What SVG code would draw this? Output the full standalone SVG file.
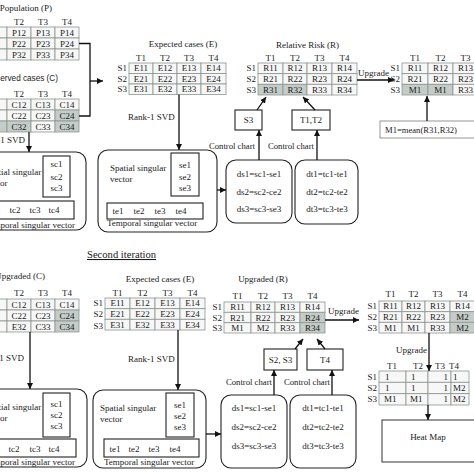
<svg xmlns="http://www.w3.org/2000/svg" width="474" height="474" viewBox="0 0 474 474">
<style>
.c{fill:#f6f7f6;stroke:#8c9691;stroke-width:0.8}
.g{fill:#c4ccc8;stroke:#8c9691;stroke-width:0.8}
.t{font-family:"Liberation Serif","Times New Roman",serif;font-size:9px;fill:#1a1a1a}
.m{text-anchor:middle}
.e{text-anchor:end}
.bx{fill:#fff;stroke:#222;stroke-width:1.1}
.ln{stroke:#111;stroke-width:1.3;fill:none}
</style>
<defs>
<marker id="ah" markerWidth="6" markerHeight="6" refX="6" refY="3" orient="auto" markerUnits="userSpaceOnUse"><path d="M0,0 L6,3 L0,6 z" fill="#111"/></marker>
</defs>
<rect width="474" height="474" fill="#fff"/>

<!-- Population table -->
<g id="population">
<text x="52" y="11" class="t e">Population (P)</text>
<text x="19" y="25" class="t m">T2</text><text x="43" y="25" class="t m">T3</text><text x="67" y="25" class="t m">T4</text>
<rect x="-17" y="27" width="24" height="11" class="c"/><rect x="7" y="27" width="24" height="11" class="c"/><rect x="31" y="27" width="24" height="11" class="c"/><rect x="55" y="27" width="24" height="11" class="c"/>
<rect x="-17" y="38" width="24" height="11" class="c"/><rect x="7" y="38" width="24" height="11" class="c"/><rect x="31" y="38" width="24" height="11" class="c"/><rect x="55" y="38" width="24" height="11" class="c"/>
<rect x="-17" y="49" width="24" height="11" class="c"/><rect x="7" y="49" width="24" height="11" class="c"/><rect x="31" y="49" width="24" height="11" class="c"/><rect x="55" y="49" width="24" height="11" class="c"/>
<text x="19" y="35.5" class="t m">P12</text><text x="43" y="35.5" class="t m">P13</text><text x="67" y="35.5" class="t m">P14</text>
<text x="19" y="46.5" class="t m">P22</text><text x="43" y="46.5" class="t m">P23</text><text x="67" y="46.5" class="t m">P24</text>
<text x="19" y="57.5" class="t m">P32</text><text x="43" y="57.5" class="t m">P33</text><text x="67" y="57.5" class="t m">P34</text>
</g>

<!-- Observed cases table -->
<g id="observed">
<text x="58" y="81" text-anchor="end" style="font-family:'Liberation Sans',Arial,sans-serif;font-size:8.2px;fill:#1a1a1a">Observed cases (C)</text>
<text x="19" y="97" class="t m">T2</text><text x="43" y="97" class="t m">T3</text><text x="67" y="97" class="t m">T4</text>
<rect x="-17" y="99" width="24" height="11" class="c"/><rect x="7" y="99" width="24" height="11" class="c"/><rect x="31" y="99" width="24" height="11" class="c"/><rect x="55" y="99" width="24" height="11" class="c"/>
<rect x="-17" y="110" width="24" height="11" class="c"/><rect x="7" y="110" width="24" height="11" class="c"/><rect x="31" y="110" width="24" height="11" class="c"/><rect x="55" y="110" width="24" height="11" class="g"/>
<rect x="-17" y="121" width="24" height="11" class="g"/><rect x="7" y="121" width="24" height="11" class="g"/><rect x="31" y="121" width="24" height="11" class="c"/><rect x="55" y="121" width="24" height="11" class="g"/>
<text x="19" y="107.5" class="t m">C12</text><text x="43" y="107.5" class="t m">C13</text><text x="67" y="107.5" class="t m">C14</text>
<text x="19" y="118.5" class="t m">C22</text><text x="43" y="118.5" class="t m">C23</text><text x="67" y="118.5" class="t m">C24</text>
<text x="19" y="129.5" class="t m">C32</text><text x="43" y="129.5" class="t m">C33</text><text x="67" y="129.5" class="t m">C34</text>
</g>

<!-- Expected cases table 1 -->
<g id="expected1">
<text x="183" y="47" class="t m">Expected cases (E)</text>
<text x="141" y="61" class="t m">T1</text><text x="165" y="61" class="t m">T2</text><text x="189" y="61" class="t m">T3</text><text x="213.5" y="61" class="t m">T4</text>
<rect x="129" y="63" width="24" height="10.5" class="c"/><rect x="153" y="63" width="24" height="10.5" class="c"/><rect x="177" y="63" width="24" height="10.5" class="c"/><rect x="201" y="63" width="25" height="10.5" class="c"/>
<rect x="129" y="73.5" width="24" height="10.5" class="c"/><rect x="153" y="73.5" width="24" height="10.5" class="c"/><rect x="177" y="73.5" width="24" height="10.5" class="c"/><rect x="201" y="73.5" width="25" height="10.5" class="c"/>
<rect x="129" y="84" width="24" height="10.5" class="c"/><rect x="153" y="84" width="24" height="10.5" class="c"/><rect x="177" y="84" width="24" height="10.5" class="c"/><rect x="201" y="84" width="25" height="10.5" class="c"/>
<text x="127" y="71.3" class="t e">S1</text><text x="127" y="81.8" class="t e">S2</text><text x="127" y="92.3" class="t e">S3</text>
<text x="141" y="71.3" class="t m">E11</text><text x="165" y="71.3" class="t m">E12</text><text x="189" y="71.3" class="t m">E13</text><text x="213.5" y="71.3" class="t m">E14</text>
<text x="141" y="81.8" class="t m">E21</text><text x="165" y="81.8" class="t m">E22</text><text x="189" y="81.8" class="t m">E23</text><text x="213.5" y="81.8" class="t m">E24</text>
<text x="141" y="92.3" class="t m">E31</text><text x="165" y="92.3" class="t m">E32</text><text x="189" y="92.3" class="t m">E33</text><text x="213.5" y="92.3" class="t m">E34</text>
</g>

<!-- Relative risk table -->
<g id="relrisk">
<text x="307.5" y="48" class="t m">Relative Risk (R)</text>
<text x="270.5" y="61" class="t m">T1</text><text x="295" y="61" class="t m">T2</text><text x="319.5" y="61" class="t m">T3</text><text x="344.5" y="61" class="t m">T4</text>
<rect x="258" y="63" width="25" height="10.7" class="c"/><rect x="283" y="63" width="24" height="10.7" class="c"/><rect x="307" y="63" width="25" height="10.7" class="c"/><rect x="332" y="63" width="25" height="10.7" class="c"/>
<rect x="258" y="73.7" width="25" height="10.6" class="c"/><rect x="283" y="73.7" width="24" height="10.6" class="c"/><rect x="307" y="73.7" width="25" height="10.6" class="c"/><rect x="332" y="73.7" width="25" height="10.6" class="c"/>
<rect x="258" y="84.3" width="25" height="10.7" class="g"/><rect x="283" y="84.3" width="24" height="10.7" class="g"/><rect x="307" y="84.3" width="25" height="10.7" class="c"/><rect x="332" y="84.3" width="25" height="10.7" class="c"/>
<text x="256" y="71.3" class="t e">S1</text><text x="256" y="82" class="t e">S2</text><text x="256" y="92.7" class="t e">S3</text>
<text x="270.5" y="71.3" class="t m">R11</text><text x="295" y="71.3" class="t m">R12</text><text x="319.5" y="71.3" class="t m">R13</text><text x="344.5" y="71.3" class="t m">R14</text>
<text x="270.5" y="82" class="t m">R21</text><text x="295" y="82" class="t m">R22</text><text x="319.5" y="82" class="t m">R23</text><text x="344.5" y="82" class="t m">R24</text>
<text x="270.5" y="92.7" class="t m">R31</text><text x="295" y="92.7" class="t m">R32</text><text x="319.5" y="92.7" class="t m">R33</text><text x="344.5" y="92.7" class="t m">R34</text>
</g>

<!-- Upgraded R table (first iteration) -->
<g id="upgraded1">
<text x="415" y="61" class="t m">T1</text><text x="440.5" y="61" class="t m">T2</text><text x="465.5" y="61" class="t m">T3</text>
<rect x="402" y="63" width="26" height="10.7" class="c"/><rect x="428" y="63" width="25" height="10.7" class="c"/><rect x="453" y="63" width="25" height="10.7" class="c"/>
<rect x="402" y="73.7" width="26" height="10.6" class="c"/><rect x="428" y="73.7" width="25" height="10.6" class="c"/><rect x="453" y="73.7" width="25" height="10.6" class="c"/>
<rect x="402" y="84.3" width="26" height="10.7" class="g"/><rect x="428" y="84.3" width="25" height="10.7" class="g"/><rect x="453" y="84.3" width="25" height="10.7" class="c"/>
<text x="400" y="71.3" class="t e">S1</text><text x="400" y="82" class="t e">S2</text><text x="400" y="92.7" class="t e">S3</text>
<text x="415" y="71.3" class="t m">R11</text><text x="440.5" y="71.3" class="t m">R12</text><text x="465.5" y="71.3" class="t m">R13</text>
<text x="415" y="82" class="t m">R21</text><text x="440.5" y="82" class="t m">R22</text><text x="465.5" y="82" class="t m">R23</text>
<text x="415" y="92.7" class="t m">M1</text><text x="440.5" y="92.7" class="t m">M1</text><text x="465.5" y="92.7" class="t m">R33</text>
</g>

<g id="mean-box">
<rect x="380" y="121" width="96" height="17" fill="#fff" stroke="#8a8a8a" stroke-width="0.9"/>
<text x="385" y="132.5" class="t" style="font-size:8.6px">M1=mean(R31,R32)</text>
</g>

<g id="s3-box"><rect x="235" y="110" width="27" height="20" class="bx"/><text x="248.5" y="123" class="t m">S3</text></g>
<g id="t1t2-box"><rect x="292" y="110" width="38" height="20" class="bx"/><text x="311" y="123" class="t m">T1,T2</text></g>

<g id="svd-c1">
<rect x="-27" y="152" width="113" height="78" rx="10" class="bx"/>
<rect x="43" y="156" width="27" height="41" class="bx"/>
<text x="56.5" y="167" class="t m">sc1</text><text x="56.5" y="180" class="t m">sc2</text><text x="56.5" y="191" class="t m">sc3</text>
<text x="-15" y="175" class="t">Spatial singular</text><text x="-15" y="186" class="t">vector</text>
<rect x="-20" y="201" width="94" height="18" class="bx"/>
<text x="15" y="213" class="t m">tc2</text><text x="35" y="213" class="t m">tc3</text><text x="54" y="213" class="t m">tc4</text>
<text x="75" y="228" class="t e">Temporal singular vector</text>
</g>

<g id="svd-e1">
<rect x="98" y="150" width="119" height="82" rx="10" class="bx"/>
<rect x="171" y="153" width="28" height="43" class="bx"/>
<text x="185" y="168" class="t m">se1</text><text x="185" y="179.5" class="t m">se2</text><text x="185" y="191" class="t m">se3</text>
<text x="110" y="171" class="t">Spatial singular</text><text x="110" y="182" class="t">vector</text>
<rect x="107" y="203" width="96" height="16" class="bx"/>
<text x="118" y="214" class="t m">te1</text><text x="139" y="214" class="t m">te2</text><text x="160" y="214" class="t m">te3</text><text x="181" y="214" class="t m">te4</text>
<text x="107" y="226" class="t">Temporal singular vector</text>
</g>

<g id="ds1">
<rect x="226" y="160" width="66" height="63" rx="10" class="bx"/>
<text x="259" y="177" class="t m">ds1=sc1-se1</text><text x="259" y="194.5" class="t m">ds2=sc2-ce2</text><text x="259" y="212" class="t m">ds3=sc3-se3</text>
</g>
<g id="dt1">
<rect x="295" y="160" width="63" height="64" rx="10" class="bx"/>
<text x="327" y="177" class="t m">dt1=tc1-te1</text><text x="327" y="194.5" class="t m">dt2=tc2-te2</text><text x="327" y="212" class="t m">dt3=tc3-te3</text>
</g>

<!-- Second iteration -->
<text x="87" y="258" class="t" style="font-size:10.6px;text-decoration:underline">Second iteration</text>

<g id="upgraded-c">
<text x="45" y="279" class="t e">Upgraded (C)</text>
<text x="19" y="296" class="t m">T2</text><text x="43" y="296" class="t m">T3</text><text x="67" y="296" class="t m">T4</text>
<rect x="-17" y="299" width="24" height="11" class="c"/><rect x="7" y="299" width="24" height="11" class="c"/><rect x="31" y="299" width="24" height="11" class="c"/><rect x="55" y="299" width="24" height="11" class="c"/>
<rect x="-17" y="310" width="24" height="11" class="c"/><rect x="7" y="310" width="24" height="11" class="c"/><rect x="31" y="310" width="24" height="11" class="c"/><rect x="55" y="310" width="24" height="11" class="g"/>
<rect x="-17" y="321" width="24" height="11" class="c"/><rect x="7" y="321" width="24" height="11" class="c"/><rect x="31" y="321" width="24" height="11" class="c"/><rect x="55" y="321" width="24" height="11" class="g"/>
<text x="19" y="307.5" class="t m">C12</text><text x="43" y="307.5" class="t m">C13</text><text x="67" y="307.5" class="t m">C14</text>
<text x="19" y="318.5" class="t m">C22</text><text x="43" y="318.5" class="t m">C23</text><text x="67" y="318.5" class="t m">C24</text>
<text x="19" y="329.5" class="t m">E32</text><text x="43" y="329.5" class="t m">C33</text><text x="67" y="329.5" class="t m">C34</text>
</g>

<g id="expected2">
<text x="160" y="282" class="t m">Expected cases (E)</text>
<text x="117.5" y="296" class="t m">T1</text><text x="142.5" y="296" class="t m">T2</text><text x="167.5" y="296" class="t m">T3</text><text x="192.5" y="296" class="t m">T4</text>
<rect x="105" y="298" width="25" height="10.7" class="c"/><rect x="130" y="298" width="25" height="10.7" class="c"/><rect x="155" y="298" width="25" height="10.7" class="c"/><rect x="180" y="298" width="25" height="10.7" class="c"/>
<rect x="105" y="308.7" width="25" height="10.6" class="c"/><rect x="130" y="308.7" width="25" height="10.6" class="c"/><rect x="155" y="308.7" width="25" height="10.6" class="c"/><rect x="180" y="308.7" width="25" height="10.6" class="c"/>
<rect x="105" y="319.3" width="25" height="10.7" class="c"/><rect x="130" y="319.3" width="25" height="10.7" class="c"/><rect x="155" y="319.3" width="25" height="10.7" class="c"/><rect x="180" y="319.3" width="25" height="10.7" class="c"/>
<text x="103" y="306.3" class="t e">S1</text><text x="103" y="317" class="t e">S2</text><text x="103" y="328.5" class="t e">S3</text>
<text x="117.5" y="306.3" class="t m">E11</text><text x="142.5" y="306.3" class="t m">E12</text><text x="167.5" y="306.3" class="t m">E13</text><text x="192.5" y="306.3" class="t m">E14</text>
<text x="117.5" y="317" class="t m">E21</text><text x="142.5" y="317" class="t m">E22</text><text x="167.5" y="317" class="t m">E23</text><text x="192.5" y="317" class="t m">E24</text>
<text x="117.5" y="327.7" class="t m">E31</text><text x="142.5" y="327.7" class="t m">E32</text><text x="167.5" y="327.7" class="t m">E33</text><text x="192.5" y="327.7" class="t m">E34</text>
</g>

<g id="upgraded-r">
<text x="263" y="282" class="t m">Upgraded (R)</text>
<text x="237.5" y="299" class="t m">T1</text><text x="263" y="299" class="t m">T2</text><text x="287.5" y="299" class="t m">T3</text><text x="312.5" y="299" class="t m">T4</text>
<rect x="224" y="302" width="27" height="10.3" class="c"/><rect x="251" y="302" width="24" height="10.3" class="c"/><rect x="275" y="302" width="25" height="10.3" class="c"/><rect x="300" y="302" width="25" height="10.3" class="c"/>
<rect x="224" y="312.3" width="27" height="10.4" class="c"/><rect x="251" y="312.3" width="24" height="10.4" class="c"/><rect x="275" y="312.3" width="25" height="10.4" class="c"/><rect x="300" y="312.3" width="25" height="10.4" class="g"/>
<rect x="224" y="322.7" width="27" height="10.3" class="c"/><rect x="251" y="322.7" width="24" height="10.3" class="c"/><rect x="275" y="322.7" width="25" height="10.3" class="c"/><rect x="300" y="322.7" width="25" height="10.3" class="g"/>
<text x="222" y="310" class="t e">S1</text><text x="222" y="320.5" class="t e">S2</text><text x="222" y="330.5" class="t e">S3</text>
<text x="237.5" y="310.2" class="t m">R11</text><text x="263" y="310.2" class="t m">R12</text><text x="287.5" y="310.2" class="t m">R13</text><text x="312.5" y="310.2" class="t m">R14</text>
<text x="237.5" y="320.5" class="t m">R21</text><text x="263" y="320.5" class="t m">R22</text><text x="287.5" y="320.5" class="t m">R23</text><text x="312.5" y="320.5" class="t m">R24</text>
<text x="237.5" y="330.9" class="t m">M1</text><text x="263" y="330.9" class="t m">M2</text><text x="287.5" y="330.9" class="t m">R33</text><text x="312.5" y="330.9" class="t m">R34</text>
</g>

<g id="upgraded2">
<text x="390.5" y="297" class="t m">T1</text><text x="413.5" y="297" class="t m">T2</text><text x="437.5" y="297" class="t m">T3</text><text x="462.5" y="297" class="t m">T4</text>
<rect x="379" y="301" width="23" height="10.7" class="c"/><rect x="402" y="301" width="23" height="10.7" class="c"/><rect x="425" y="301" width="25" height="10.7" class="c"/><rect x="450" y="301" width="25" height="10.7" class="c"/>
<rect x="379" y="311.7" width="23" height="10.6" class="c"/><rect x="402" y="311.7" width="23" height="10.6" class="c"/><rect x="425" y="311.7" width="25" height="10.6" class="c"/><rect x="450" y="311.7" width="25" height="10.6" class="g"/>
<rect x="379" y="322.3" width="23" height="10.7" class="c"/><rect x="402" y="322.3" width="23" height="10.7" class="c"/><rect x="425" y="322.3" width="25" height="10.7" class="c"/><rect x="450" y="322.3" width="25" height="10.7" class="g"/>
<text x="377" y="309.3" class="t e">S1</text><text x="377" y="320" class="t e">S2</text><text x="377" y="331" class="t e">S3</text>
<text x="390.5" y="309.3" class="t m">R11</text><text x="413.5" y="309.3" class="t m">R12</text><text x="437.5" y="309.3" class="t m">R13</text><text x="462.5" y="309.3" class="t m">R14</text>
<text x="390.5" y="320" class="t m">R21</text><text x="413.5" y="320" class="t m">R22</text><text x="437.5" y="320" class="t m">R23</text><text x="462.5" y="320" class="t m">M2</text>
<text x="390.5" y="330.7" class="t m">M1</text><text x="413.5" y="330.7" class="t m">M1</text><text x="437.5" y="330.7" class="t m">R33</text><text x="462.5" y="330.7" class="t m">M2</text>
</g>

<g id="final-table">
<text x="392" y="369" class="t m">T1</text><text x="418" y="369" class="t m">T2</text><text x="440" y="369" class="t m">T3</text><text x="454" y="369" class="t m">T4</text>
<rect x="379" y="371" width="27" height="11.3" class="c"/><rect x="406" y="371" width="22" height="11.3" class="c"/><rect x="428" y="371" width="23" height="11.3" class="c"/><rect x="451" y="371" width="18" height="11.3" class="c"/>
<rect x="379" y="382.3" width="27" height="11.4" class="c"/><rect x="406" y="382.3" width="22" height="11.4" class="c"/><rect x="428" y="382.3" width="23" height="11.4" class="c"/><rect x="451" y="382.3" width="18" height="11.4" class="c"/>
<rect x="379" y="393.7" width="27" height="11.3" class="c"/><rect x="406" y="393.7" width="22" height="11.3" class="c"/><rect x="428" y="393.7" width="23" height="11.3" class="c"/><rect x="451" y="393.7" width="18" height="11.3" class="c"/>
<text x="377" y="379.7" class="t e">S1</text><text x="377" y="391" class="t e">S2</text><text x="377" y="402.4" class="t e">S3</text>
<text x="385" y="379.7" class="t">1</text><text x="411" y="379.7" class="t">1</text><text x="448" y="379.7" class="t e">1</text><text x="453" y="379.7" class="t">1</text>
<text x="385" y="391" class="t">1</text><text x="411" y="391" class="t">1</text><text x="448" y="391" class="t e">1</text><text x="453" y="391" class="t">M2</text>
<text x="384" y="402.4" class="t">M1</text><text x="410" y="402.4" class="t">M1</text><text x="448" y="402.4" class="t e">1</text><text x="453" y="402.4" class="t">M2</text>
</g>

<g id="heatmap">
<rect x="382" y="420" width="94" height="42" fill="#fff" stroke="#333" stroke-width="1"/>
<text x="428" y="440" class="t m">Heat Map</text>
</g>

<g id="s2s3-box"><rect x="264" y="349" width="33" height="21" class="bx"/><text x="280.5" y="363" class="t m">S2, S3</text></g>
<g id="t4-box"><rect x="307" y="349" width="36" height="21" class="bx"/><text x="325" y="363" class="t m">T4</text></g>

<g id="svd-c2">
<rect x="-27" y="389" width="114" height="78" rx="10" class="bx"/>
<rect x="43" y="393" width="27" height="44" class="bx"/>
<text x="56.5" y="407" class="t m">sc1</text><text x="56.5" y="418" class="t m">sc2</text><text x="56.5" y="429" class="t m">sc3</text>
<text x="-15" y="410" class="t">Spatial singular</text><text x="-15" y="421" class="t">vector</text>
<rect x="-20" y="439" width="96" height="18" class="bx"/>
<text x="14" y="452" class="t m">tc2</text><text x="35" y="452" class="t m">tc3</text><text x="54" y="452" class="t m">tc4</text>
<text x="75" y="465" class="t e">Temporal singular vector</text>
</g>

<g id="svd-e2">
<rect x="93" y="390" width="113" height="78" rx="10" class="bx"/>
<rect x="166" y="393" width="28" height="44" class="bx"/>
<text x="180" y="408" class="t m">se1</text><text x="180" y="418.5" class="t m">se2</text><text x="180" y="430" class="t m">se3</text>
<text x="100" y="411" class="t">Spatial singular</text><text x="100" y="422" class="t">vector</text>
<rect x="104" y="439" width="95" height="18" class="bx"/>
<text x="115" y="452" class="t m">te1</text><text x="134" y="452" class="t m">te2</text><text x="154" y="452" class="t m">te3</text><text x="175" y="452" class="t m">te4</text>
<text x="104" y="465" class="t">Temporal singular vector</text>
</g>

<g id="ds2">
<rect x="221" y="395" width="66" height="73" rx="10" class="bx"/>
<text x="254" y="411" class="t m">ds1=sc1-se1</text><text x="254" y="430" class="t m">ds2=sc2-ce2</text><text x="254" y="449" class="t m">ds3=sc3-se3</text>
</g>
<g id="dt2">
<rect x="290" y="395" width="66" height="73" rx="10" class="bx"/>
<text x="323" y="411" class="t m">dt1=tc1-te1</text><text x="323" y="430" class="t m">dt2=tc2-te2</text><text x="323" y="449" class="t m">dt3=tc3-te3</text>
</g>

<!-- connectors -->
<g id="connectors">
<polyline points="79,43.5 90,43.5 90,116 79,116" class="ln"/>
<line x1="90" y1="81" x2="103" y2="81" class="ln" marker-end="url(#ah)"/>
<line x1="29" y1="132" x2="29" y2="152" class="ln" marker-end="url(#ah)"/>
<text x="25" y="143" class="t e">Rank-1 SVD</text>
<line x1="179" y1="94.5" x2="179" y2="150" class="ln" marker-end="url(#ah)"/>
<text x="128" y="120" class="t">Rank-1 SVD</text>
<line x1="217" y1="190" x2="226" y2="190" class="ln" marker-end="url(#ah)"/>
<line x1="259" y1="160" x2="259" y2="130" class="ln" marker-end="url(#ah)"/>
<text x="255" y="149" class="t e" style="font-size:8.7px">Control chart</text>
<line x1="317" y1="160" x2="317" y2="130" class="ln" marker-end="url(#ah)"/>
<text x="314" y="149" class="t e" style="font-size:8.7px">Control chart</text>
<line x1="257" y1="110" x2="266" y2="97" class="ln" marker-end="url(#ah)"/>
<line x1="315" y1="110" x2="303" y2="97" class="ln" marker-end="url(#ah)"/>
<line x1="357" y1="80" x2="394" y2="80" class="ln" marker-end="url(#ah)"/>
<text x="358" y="76" class="t">Upgrade</text>
<line x1="427" y1="121" x2="427" y2="96" class="ln" marker-end="url(#ah)"/>

<line x1="30" y1="332" x2="30" y2="389" class="ln" marker-end="url(#ah)"/>
<text x="24" y="361" class="t e">Rank-1 SVD</text>
<line x1="178" y1="330" x2="178" y2="390" class="ln" marker-end="url(#ah)"/>
<text x="128" y="362" class="t">Rank-1 SVD</text>
<line x1="206" y1="434" x2="221" y2="434" class="ln" marker-end="url(#ah)"/>
<line x1="274" y1="395" x2="274" y2="370" class="ln" marker-end="url(#ah)"/>
<text x="272" y="385" class="t e" style="font-size:8.7px">Control chart</text>
<line x1="332" y1="395" x2="332" y2="370" class="ln" marker-end="url(#ah)"/>
<text x="330" y="385" class="t e" style="font-size:8.7px">Control chart</text>
<line x1="295" y1="349" x2="303" y2="339" class="ln" marker-end="url(#ah)"/>
<line x1="325" y1="349" x2="317" y2="339" class="ln" marker-end="url(#ah)"/>
<line x1="325" y1="320" x2="359" y2="320" class="ln" marker-end="url(#ah)"/>
<text x="328" y="314" class="t">Upgrade</text>
<line x1="429" y1="333" x2="429" y2="371" class="ln" marker-end="url(#ah)"/>
<text x="427" y="353" class="t e">Upgrade</text>
<line x1="428" y1="405" x2="428" y2="420" class="ln" marker-end="url(#ah)"/>
</g>
</svg>
